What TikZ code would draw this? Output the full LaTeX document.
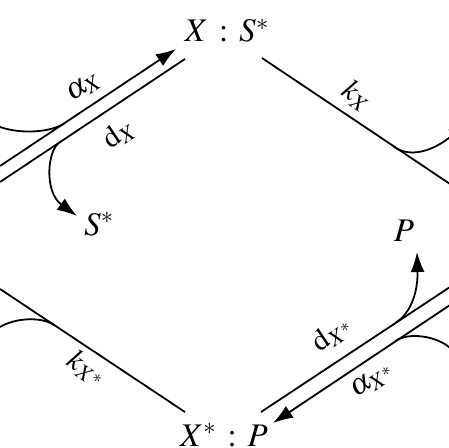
\documentclass[tikz,border=0pt]{standalone}
\usepackage{amsmath}
\usepackage{amssymb}
\usepackage{mathptmx}
\usepackage{tikz}
\usetikzlibrary{arrows.meta}
\tikzstyle{edge}=[
	-,
	draw=black,
	line width=0.9pt
]
\tikzstyle{flow}=[
	edge,
	-{Latex[length=10pt,width=7pt]}
]
\tikzstyle{vertex}=[
	inner sep=1mm,
	font=\fontsize{16.5}{18}\selectfont
]
\tikzstyle{rate}=[
	inner sep=0mm,
	font=\fontsize{15}{17}\selectfont
]

\begin{document}
\begin{tikzpicture}[x=0.5pt,y=-0.5pt]
\useasboundingbox (0,0) rectangle (448,448);
\node[vertex, anchor=base] (XS) at (227,42) {$X\,:\,S^*$};
\node[vertex, anchor=base] (S) at (99,235) {$S^*$};
\node[vertex, anchor=base] (P) at (404,242) {$P$};
\node[vertex, anchor=base] (XP) at (224,446) {$X^*\,:\,P$};

% binding and release of X
\coordinate (a1) at (0,166);
\coordinate (a2) at (176,49);
\coordinate (d1) at (0,182);
\coordinate (d2) at (185,59);
\coordinate (ain) at (0,127);
\coordinate (aj) at (65,123);
\coordinate (dj) at (60,142);
\coordinate (dt) at (77,216);
\draw[flow] (a1) -- (a2);
\draw[edge] (d1) -- (d2);
\draw[edge] (ain) .. controls (20,134) and (50,133) .. (aj);
\draw[flow] (dj) .. controls (47,150) and (44,192) .. (dt);

% catalysis by X
\coordinate (k1) at (262,58);
\coordinate (k2) at (450,184);
\coordinate (kj) at (393,146);
\coordinate (kt) at (468,122);
\draw[edge] (k1) -- (k2);
\draw[flow] (kj) .. controls (405,156) and (428,156) .. (kt);

% catalysis by X*
\coordinate (m1) at (0,289);
\coordinate (m2) at (185,412);
\coordinate (min) at (0,327);
\coordinate (mj) at (55,325.5);
\draw[edge] (m1) -- (m2);
\draw[edge] (min) .. controls (15,318) and (41,316) .. (mj);

% binding and release of X*
\coordinate (e1) at (261,412);
\coordinate (e2) at (450,287);
\coordinate (b1) at (450,305);
\coordinate (b2) at (273,423);
\coordinate (ej) at (396,322.5);
\coordinate (et) at (417,252);
\coordinate (bin) at (450,348);
\coordinate (bj) at (396,340.6);
\draw[edge] (e1) -- (e2);
\draw[flow] (b1) -- (b2);
\draw[flow] (ej) .. controls (412,312) and (418,290) .. (et);
\draw[edge] (bin) .. controls (437,336) and (409,332) .. (bj);

% rates
\node[rate, rotate=33.6] (la) at (84,87) {$\alpha_X$};
\node[rate, rotate=33.6] (ld) at (119,134) {$\mathrm{d}_X$};
\node[rate, rotate=-33.6] (lk) at (357,96) {$k_X$};
\node[rate, rotate=-33.6] (lks) at (87,369) {$k_{X^*}$};
\node[rate, rotate=33.6] (lds) at (332,334) {$\mathrm{d}_{X^*}$};
\node[rate, rotate=33.6] (las) at (373,381) {$\alpha_{X^*}$};

\end{tikzpicture}
\end{document}
